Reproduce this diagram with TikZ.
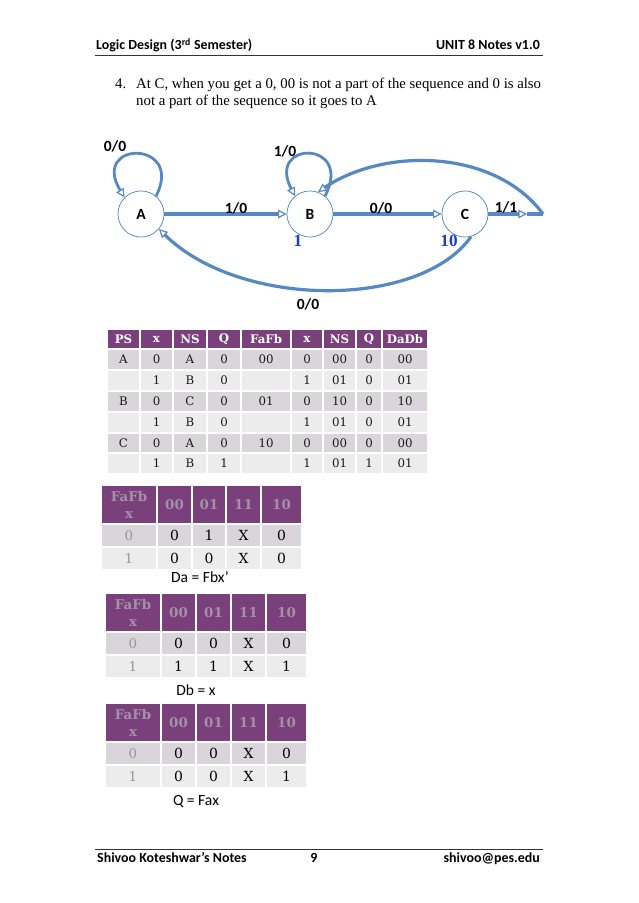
\documentclass[tikz,border=0pt]{standalone}
\usepackage{fontspec}
\setmainfont{Liberation Serif}
\newfontfamily\calib{Carlito}
\newfontfamily\slab{DejaVu Serif}
\usetikzlibrary{arrows.meta}
\definecolor{arrowblue}{RGB}{86,136,193}
\definecolor{purp}{RGB}{122,64,124}
\definecolor{rowdark}{RGB}{217,213,218}
\definecolor{rowlight}{RGB}{237,236,237}
\definecolor{lblue}{RGB}{28,58,212}
\definecolor{hdrgray}{RGB}{165,145,165}
\definecolor{lblgray}{RGB}{150,150,150}
\newcommand\trow[6]{% name, y1, y2, fill, text style, list
  \foreach \xa/\xb/\t [count=\k] in {#6} {
    \fill[#4] (\xa,#2) rectangle (\xb,#3);
    \draw[white, line width=1.1pt] (\xa,#2) rectangle (\xb,#3);
    \node[#5] (#1-\k) at ({(\xa+\xb)/2},{(#2+#3)/2}) {\t};
  }}
\begin{document}
\begin{tikzpicture}[x=0.9333pt,y=-0.9333pt,
  state/.style={circle, draw=arrowblue, line width=0.7pt, fill=white, minimum size=43pt, inner sep=0pt, font=\calib\bfseries\fontsize{14.5}{16}\selectfont},
  arr/.style={draw=arrowblue, line width=3pt, -{Triangle[fill=white, line width=1.1pt, length=8pt, width=8pt]}},
  looparr/.style={draw=arrowblue, line width=2.6pt, -{Triangle[fill=white, line width=1.1pt, length=8pt, width=8pt]}},
  plainline/.style={draw=arrowblue, line width=3pt},
  lbl/.style={font=\calib\bfseries\fontsize{14.5}{16}\selectfont, inner sep=0pt},
  blbl/.style={font=\bfseries\fontsize{16}{18}\selectfont, text=lblue, inner sep=0pt},
  thdr/.style={font=\slab\bfseries\fontsize{11}{13}\selectfont, text=white},
  tbody/.style={font=\slab\fontsize{11}{13}\selectfont, text=black!90},
  khdr/.style={font=\slab\bfseries\fontsize{12.5}{16}\selectfont, text=hdrgray, align=center},
  klbl/.style={font=\slab\fontsize{12.5}{14}\selectfont, text=lblgray},
  kval/.style={font=\slab\fontsize{13}{15}\selectfont, text=black},
  captxt/.style={font=\calib\fontsize{14.5}{16}\selectfont, inner sep=0pt},
  hf/.style={font=\calib\bfseries\fontsize{13}{15}\selectfont, inner sep=0pt},
  body/.style={font=\fontsize{13.8}{16}\selectfont, inner sep=0pt}]
\useasboundingbox (0,0) rectangle (638,903);
\fill[white] (0,0) rectangle (638,903);
% header
\node[hf, anchor=base west] (h1) at (96,50) {Logic Design (3\textsuperscript{rd} Semester)};
\node[hf, anchor=base east] (h2) at (540,50) {UNIT 8 Notes v1.0};
\coordinate (hl1) at (95,55); \coordinate (hl2) at (543,55);
\draw[line width=0.8pt, black!80] (hl1) -- (hl2);
% body text
\node[body, anchor=base west] (n4) at (115,89) {4.};
\node[body, anchor=base west] (t1) at (136,89) {At C, when you get a 0, 00 is not a part of the sequence and 0 is also};
\node[body, anchor=base west] (t2) at (136,106) {not a part of the sequence so it goes to A};
% state diagram
\node[state] (A) at (141,214) {A};
\node[state] (B) at (310,214) {B};
\node[state] (C) at (465,214) {C};
\coordinate (p) at (527,214);
\coordinate (q) at (543,214);
\draw[arr] (A) -- (B);
\draw[arr] (B) -- (C);
\draw[arr] (C) -- (p);
\draw[plainline] (p) -- (q);
\draw[arr] (q) .. controls (495,149) and (385,147) .. (B.70);
\draw[arr] (C.-75) .. controls (420,309) and (240,309) .. (A.-40);
\draw[looparr] (A.50) .. controls (185,140) and (90,140) .. (A.135);
\draw[looparr] (B.50) .. controls (354,140) and (266,140) .. (B.130);
\node[lbl] (l1) at (115,146) {0/0};
\node[lbl] (l2) at (285,151) {1/0};
\node[lbl] (l3) at (236,208) {1/0};
\node[lbl] (l4) at (381,208) {0/0};
\node[lbl] (l5) at (506,207) {1/1};
\node[lbl] (l6) at (308,304) {0/0};
\node[blbl] (b1) at (298,241) {1};
\node[blbl] (b2) at (449,241) {10};
% state table
\trow{r0}{329}{349}{purp}{thdr}{107/140/PS,140/173/x,173/207/NS,207/241/Q,241/291/FaFb,291/323/x,323/356/NS,356/382/Q,382/428/DaDb}
\trow{r1}{349}{370}{rowdark}{tbody}{107/140/A,140/173/0,173/207/A,207/241/0,241/291/00,291/323/0,323/356/00,356/382/0,382/428/00}
\trow{r2}{370}{391}{rowlight}{tbody}{107/140/{},140/173/1,173/207/B,207/241/0,241/291/{},291/323/1,323/356/01,356/382/0,382/428/01}
\trow{r3}{391}{412}{rowdark}{tbody}{107/140/B,140/173/0,173/207/C,207/241/0,241/291/01,291/323/0,323/356/10,356/382/0,382/428/10}
\trow{r4}{412}{433}{rowlight}{tbody}{107/140/{},140/173/1,173/207/B,207/241/0,241/291/{},291/323/1,323/356/01,356/382/0,382/428/01}
\trow{r5}{433}{453}{rowdark}{tbody}{107/140/C,140/173/0,173/207/A,207/241/0,241/291/10,291/323/0,323/356/00,356/382/0,382/428/00}
\trow{r6}{453}{474}{rowlight}{tbody}{107/140/{},140/173/1,173/207/B,207/241/1,241/291/{},291/323/1,323/356/01,356/382/1,382/428/01}
% K-map 1
\trow{ka0}{485}{524}{purp}{khdr}{101/157/{FaFb\\x},157/192/00,192/226/01,226/261/11,261/302/10}
\trow{ka1}{524}{547}{rowdark}{kval}{101/157/{},157/192/0,192/226/1,226/261/X,261/302/0}
\trow{ka2}{547}{570}{rowlight}{kval}{101/157/{},157/192/0,192/226/0,226/261/X,261/302/0}
\node[klbl] (ka1l) at (129,535.5) {0};
\node[klbl] (ka2l) at (129,558.5) {1};
\node[captxt, anchor=base] (c1) at (200,582) {Da = Fbx’};
% K-map 2
\trow{kb0}{593}{632}{purp}{khdr}{105/161/{FaFb\\x},161/196/00,196/231/01,231/266/11,266/307/10}
\trow{kb1}{632}{655}{rowdark}{kval}{105/161/{},161/196/0,196/231/0,231/266/X,266/307/0}
\trow{kb2}{655}{678}{rowlight}{kval}{105/161/{},161/196/1,196/231/1,231/266/X,266/307/1}
\node[klbl] (kb1l) at (133,643.5) {0};
\node[klbl] (kb2l) at (133,666.5) {1};
\node[captxt, anchor=base] (c2) at (196,695) {Db = x};
% K-map 3
\trow{kc0}{703}{742}{purp}{khdr}{105/161/{FaFb\\x},161/196/00,196/231/01,231/266/11,266/307/10}
\trow{kc1}{742}{765}{rowdark}{kval}{105/161/{},161/196/0,196/231/0,231/266/X,266/307/0}
\trow{kc2}{765}{788}{rowlight}{kval}{105/161/{},161/196/0,196/231/0,231/266/X,266/307/1}
\node[klbl] (kc1l) at (133,753.5) {0};
\node[klbl] (kc2l) at (133,776.5) {1};
\node[captxt, anchor=base] (c3) at (196,805) {Q = Fax};
% footer
\coordinate (fl1) at (95,849); \coordinate (fl2) at (543,849);
\draw[line width=0.8pt, black!80] (fl1) -- (fl2);
\node[hf, anchor=base west] (f1) at (97,862) {Shivoo Koteshwar’s Notes};
\node[hf, anchor=base] (f2) at (314,862) {9};
\node[hf, anchor=base east] (f3) at (540,862) {shivoo@pes.edu};
\end{tikzpicture}
\end{document}
